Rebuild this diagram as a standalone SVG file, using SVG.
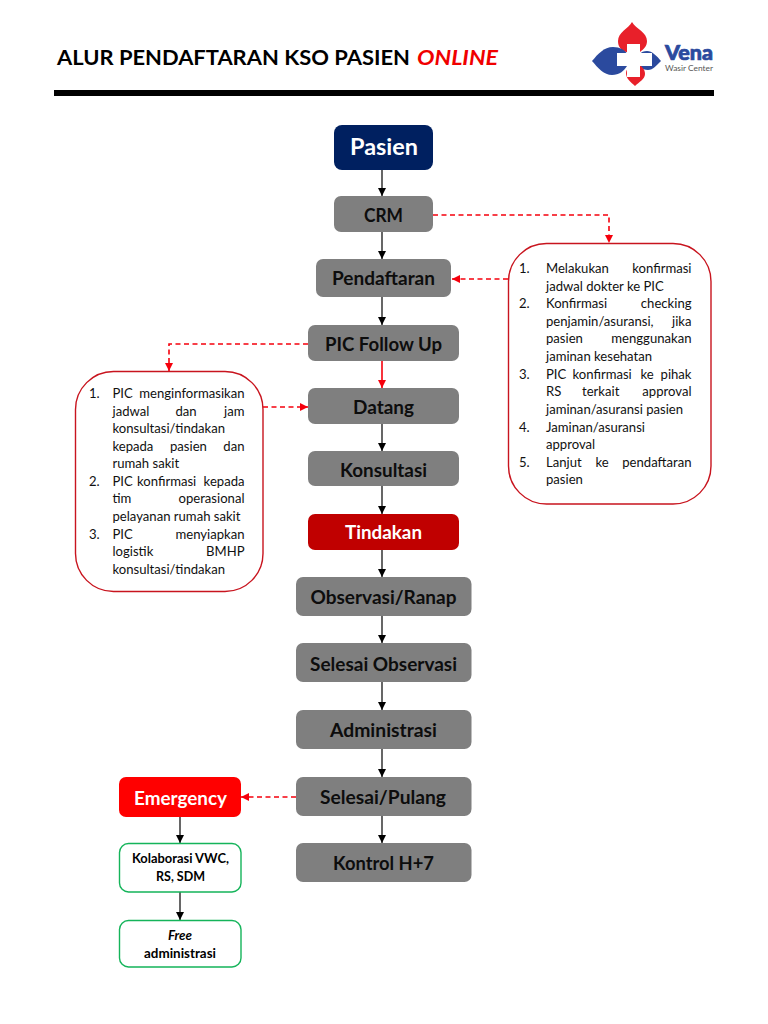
<svg xmlns="http://www.w3.org/2000/svg" width="768" height="1024" viewBox="0 0 768 1024">
<style>
text{font-family:"Lato","Open Sans","Liberation Sans",sans-serif;fill:#000}
.n{font-weight:700;font-size:18.5px;text-anchor:middle;fill:#0d0d0d}
.w{fill:#fff}
.s{font-weight:700;font-size:13px;text-anchor:middle}
.b{font-size:13.1px;fill:#111}
.e{text-anchor:end}
.g{fill:#7f7f7f}
.k{stroke:#262626;stroke-width:1.4;fill:none;marker-end:url(#ah)}
.r{stroke:#f5000c;stroke-width:1.6;fill:none;marker-end:url(#ar)}
.d{stroke-dasharray:5 3.500}
.box{fill:#fff;stroke:#c8141e;stroke-width:1.4}
.gb{fill:#fff;stroke:#14b45a;stroke-width:1.4}
</style>
<defs>
<marker id="ah" markerUnits="userSpaceOnUse" markerWidth="9" markerHeight="9" refX="8" refY="4" orient="auto"><path d="M0 0L8 4L0 8Z" fill="#000"/></marker>
<marker id="ar" markerUnits="userSpaceOnUse" markerWidth="9" markerHeight="9" refX="8" refY="4" orient="auto"><path d="M0 0L8 4L0 8Z" fill="#f5000c"/></marker>
</defs>
<rect width="768" height="1024" fill="#fff"/>
<g id="header">
<text x="57" y="65" font-size="21.5" font-weight="700" textLength="353" lengthAdjust="spacingAndGlyphs">ALUR PENDAFTARAN KSO PASIEN</text>
<text x="417" y="65" font-size="21.5" font-weight="700" font-style="italic" style="fill:#f00000" textLength="81" lengthAdjust="spacingAndGlyphs">ONLINE</text>
<rect x="54" y="90" width="660" height="6" fill="#000"/>
</g>
<g id="logo">
<path d="M632 22C628 29 618 32 618 41C618 47 621 50 626 52L640 52C644 49 647 46 647 41C647 32 636 29 632 22Z" fill="#e8202a"/>
<path d="M592 61C598 54 604 47 613 47C620 47 625 50 627 54L627 66C624 71 619 75 612 75C604 75 598 68 592 61Z" fill="#2b4a9e"/>
<path d="M661 61C657 56 652 51 647 51C644 51 641 52 640 54L640 66C642 69 645 70 648 70C653 70 657 65 661 61Z" fill="#2b4a9e"/>
<path d="M635 86C631 82 626 79 626 73C626 70 628 68 630 66L641 66C644 69 645 71 645 74C645 79 639 82 635 86Z" fill="#e8202a"/>
<path d="M627 44H640V53H652V66H640V77H627V66H617V53H627Z" fill="#fff"/>
<text x="665" y="59.500" font-size="20" font-weight="900" style="fill:#2b4a9e;stroke:#2b4a9e;stroke-width:.7" textLength="48" lengthAdjust="spacingAndGlyphs">Vena</text>
<text x="665" y="71" font-size="7" style="fill:#555" textLength="48" lengthAdjust="spacingAndGlyphs">Wasir Center</text>
</g>
<g id="connectors">
<path class="k" d="M382 170V196"/><path class="k" d="M382 232V259"/><path class="k" d="M382 297V325"/>
<path class="r" d="M382 361V388"/><path class="k" d="M382 424V451"/><path class="k" d="M382 486V514"/>
<path class="k" d="M382 550V577"/><path class="k" d="M382 616V643"/><path class="k" d="M382 682V710"/>
<path class="k" d="M382 749V777"/><path class="k" d="M382 816V843"/>
<path class="k" d="M180 817V843"/><path class="k" d="M180 892V920"/>
<path class="r d" d="M433 215H609V243"/><path class="r d" d="M508 279H452"/>
<path class="r d" d="M308 344H169V371"/><path class="r d" d="M263 407H308"/><path class="r d" d="M296 797H241"/>
</g>
<g id="pasien"><rect x="334" y="125" width="99" height="45" rx="8" fill="#002060"/><text class="n w" x="384" y="155" style="font-size:22px;fill:#fff" textLength="68" lengthAdjust="spacingAndGlyphs">Pasien</text></g>
<g id="crm"><rect class="g" x="334" y="196" width="99" height="36" rx="7"/><text class="n" x="383.500" y="222" textLength="39" lengthAdjust="spacingAndGlyphs">CRM</text></g>
<g id="pendaftaran"><rect class="g" x="316" y="259" width="135" height="38" rx="7"/><text class="n" x="383.500" y="285" textLength="103" lengthAdjust="spacingAndGlyphs">Pendaftaran</text></g>
<g id="picfollowup"><rect class="g" x="308" y="325" width="151" height="36" rx="7"/><text class="n" x="383.500" y="351" textLength="117" lengthAdjust="spacingAndGlyphs">PIC Follow Up</text></g>
<g id="datang"><rect class="g" x="308" y="388" width="151" height="36" rx="7"/><text class="n" x="383.500" y="414" textLength="61" lengthAdjust="spacingAndGlyphs">Datang</text></g>
<g id="konsultasi"><rect class="g" x="308" y="451" width="151" height="35" rx="7"/><text class="n" x="383.500" y="476.500" textLength="87" lengthAdjust="spacingAndGlyphs">Konsultasi</text></g>
<g id="tindakan"><rect x="308" y="514" width="151" height="36" rx="7" fill="#c00000"/><text class="n" x="383.500" y="539" style="fill:#fff" textLength="77" lengthAdjust="spacingAndGlyphs">Tindakan</text></g>
<g id="observasi"><rect class="g" x="296" y="577" width="175.500" height="39" rx="7"/><text class="n" x="383.500" y="604" textLength="146" lengthAdjust="spacingAndGlyphs">Observasi/Ranap</text></g>
<g id="selesaiobservasi"><rect class="g" x="296" y="643" width="175.500" height="39" rx="7"/><text class="n" x="383.500" y="670.500" textLength="147" lengthAdjust="spacingAndGlyphs">Selesai Observasi</text></g>
<g id="administrasi"><rect class="g" x="296" y="710" width="175.500" height="39" rx="7"/><text class="n" x="383.500" y="737" textLength="107" lengthAdjust="spacingAndGlyphs">Administrasi</text></g>
<g id="selesaipulang"><rect class="g" x="296" y="777" width="175.500" height="39" rx="7"/><text class="n" x="383" y="804" textLength="126" lengthAdjust="spacingAndGlyphs">Selesai/Pulang</text></g>
<g id="kontrol"><rect class="g" x="296" y="843" width="175.500" height="39" rx="7"/><text class="n" x="383.500" y="870" textLength="101" lengthAdjust="spacingAndGlyphs">Kontrol H+7</text></g>
<g id="emergency"><rect x="119" y="777" width="122" height="40" rx="7" fill="#ff0000"/><text class="n" x="180.500" y="805" style="fill:#fff" textLength="93" lengthAdjust="spacingAndGlyphs">Emergency</text></g>
<g id="kolaborasi"><rect class="gb" x="119.500" y="843.500" width="121.500" height="48.500" rx="9"/><text class="s" x="180.500" y="863" textLength="97" lengthAdjust="spacingAndGlyphs">Kolaborasi VWC,</text><text class="s" x="180.500" y="881" textLength="49" lengthAdjust="spacingAndGlyphs">RS, SDM</text></g>
<g id="free"><rect class="gb" x="119.500" y="920.500" width="121.500" height="46.500" rx="9"/><text class="s" x="180" y="940" font-style="italic" textLength="24" lengthAdjust="spacingAndGlyphs">Free</text><text class="s" x="180" y="958" textLength="72" lengthAdjust="spacingAndGlyphs">administrasi</text></g>
<g id="notes-right">
<rect class="box" x="508.500" y="243.500" width="202.500" height="260.500" rx="38"/>
<text class="b" x="519" y="272.500">1.</text><text class="b" x="546" y="272.500">Melakukan</text><text class="b e" x="691.500" y="272.500">konfirmasi</text>
<text class="b" x="546" y="290.500">jadwal dokter ke PIC</text>
<text class="b" x="519" y="307.500">2.</text><text class="b" x="546" y="307.500">Konfirmasi</text><text class="b e" x="691.500" y="307.500">checking</text>
<text class="b" x="546" y="325.500">penjamin/asuransi,</text><text class="b e" x="691.500" y="325.500">jika</text>
<text class="b" x="546" y="343">pasien</text><text class="b e" x="691.500" y="343">menggunakan</text>
<text class="b" x="546" y="360.500">jaminan kesehatan</text>
<text class="b" x="519" y="378.500">3.</text><text class="b" x="546" y="378.500">PIC</text><text class="b" x="572.500" y="378.500">konfirmasi</text><text class="b" x="640.500" y="378.500">ke</text><text class="b e" x="691.500" y="378.500">pihak</text>
<text class="b" x="546" y="396">RS</text><text class="b" x="582" y="396">terkait</text><text class="b e" x="691.500" y="396">approval</text>
<text class="b" x="546" y="414">jaminan/asuransi pasien</text>
<text class="b" x="519" y="431.500">4.</text><text class="b" x="546" y="431.500">Jaminan/asuransi</text>
<text class="b" x="546" y="449">approval</text>
<text class="b" x="519" y="466.500">5.</text><text class="b" x="546" y="466.500">Lanjut</text><text class="b" x="595.500" y="466.500">ke</text><text class="b e" x="691.500" y="466.500">pendaftaran</text>
<text class="b" x="546" y="484">pasien</text>
</g>
<g id="notes-left">
<rect class="box" x="75.500" y="371.500" width="187.500" height="220" rx="38"/>
<text class="b" x="89" y="398">1.</text><text class="b" x="112.500" y="398">PIC</text><text class="b e" x="244.500" y="398">menginformasikan</text>
<text class="b" x="112.500" y="415.500">jadwal</text><text class="b" x="175.500" y="415.500">dan</text><text class="b e" x="244.500" y="415.500">jam</text>
<text class="b" x="112.500" y="433">konsultasi/tindakan</text>
<text class="b" x="112.500" y="450.500">kepada</text><text class="b" x="170" y="450.500">pasien</text><text class="b e" x="244.500" y="450.500">dan</text>
<text class="b" x="112.500" y="468">rumah sakit</text>
<text class="b" x="89" y="485.500">2.</text><text class="b" x="112.500" y="485.500">PIC</text><text class="b" x="137" y="485.500">konfirmasi</text><text class="b e" x="244.500" y="485.500">kepada</text>
<text class="b" x="112.500" y="503">tim</text><text class="b e" x="244.500" y="503">operasional</text>
<text class="b" x="112.500" y="521">pelayanan rumah sakit</text>
<text class="b" x="89" y="538.500">3.</text><text class="b" x="112.500" y="538.500">PIC</text><text class="b e" x="244.500" y="538.500">menyiapkan</text>
<text class="b" x="112.500" y="556">logistik</text><text class="b e" x="244.500" y="556">BMHP</text>
<text class="b" x="112.500" y="573.500">konsultasi/tindakan</text>
</g>
</svg>
